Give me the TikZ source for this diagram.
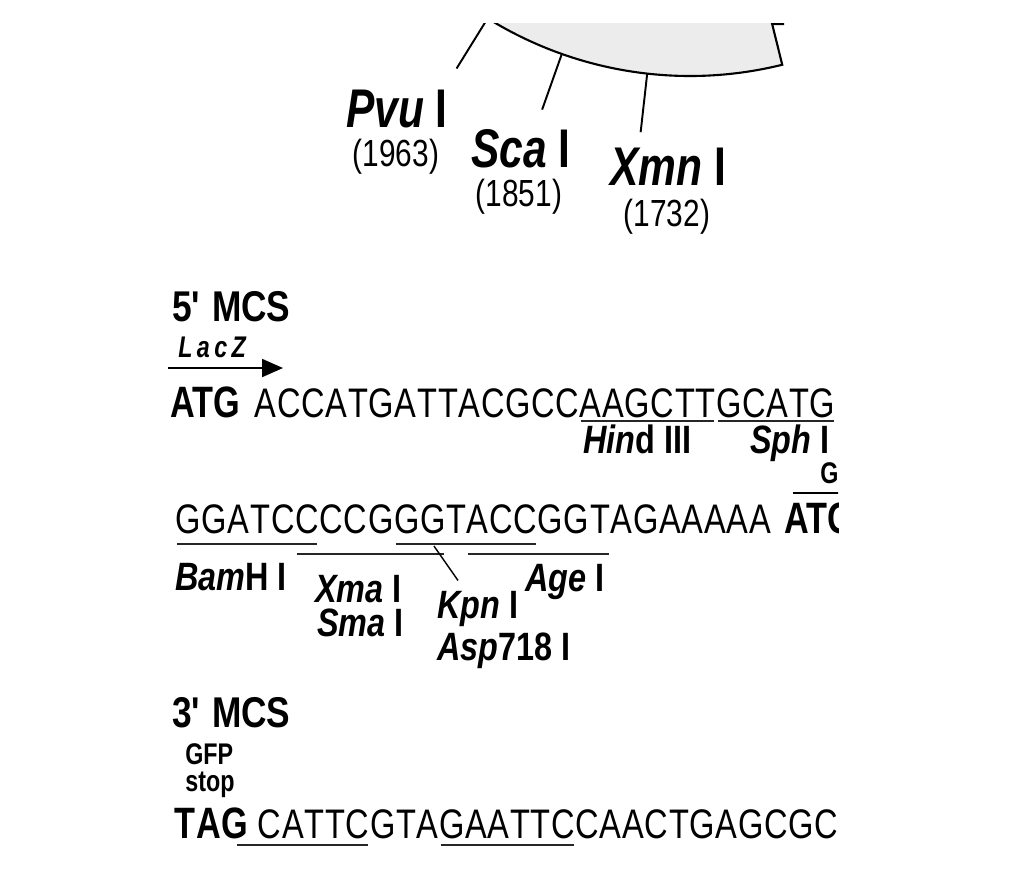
\documentclass[tikz,border=0pt]{standalone}
\usepackage{fontspec}
\newfontfamily\seqfont{Liberation Sans}[FakeStretch=0.79]
\newfontfamily\labfont{Liberation Sans}[FakeStretch=0.82]
\newfontfamily\cnfont{Liberation Sans}[FakeStretch=0.78]
\usetikzlibrary{arrows.meta,calc}
\definecolor{ringgray}{gray}{0.925}

\begin{document}
\begin{tikzpicture}[x=0.02cm,y=-0.02cm,
    letter/.style={inner sep=0pt,anchor=base west},
    seq/.style={letter,font=\seqfont\fontsize{23.5}{23.5}\selectfont},
    startcodon/.style={letter,font=\cnfont\bfseries\fontsize{25}{25}\selectfont},
    enz/.style={letter,font=\labfont\bfseries\fontsize{22.5}{22.5}\selectfont},
    site/.style={inner sep=0pt,anchor=base,font=\cnfont\bfseries\fontsize{31}{31}\selectfont},
    sitepos/.style={inner sep=0pt,anchor=base,font=\seqfont\fontsize{21.5}{21.5}\selectfont},
    mcshead/.style={letter,font=\labfont\bfseries\fontsize{24.5}{24.5}\selectfont},
    smalllab/.style={letter,font=\cnfont\bfseries\fontsize{17}{17}\selectfont},
    ul/.style={line width=1.3pt,black!85,shorten <=1pt,shorten >=1pt},
    sitetick/.style={line width=1.1pt}]
  \useasboundingbox (0,0) rectangle (1024,877);

  \begin{scope}
    \clip (0,23) rectangle (838,877);

    % plasmid ring
    \coordinate (o) at (690,-308);
    \fill[ringgray] (o) -- ($(o)+(140:384)$) arc[start angle=140,end angle=76.1,radius=384] -- cycle;
    \draw[line width=1.2pt] ($(o)+(140:384)$) arc[start angle=140,end angle=76.1,radius=384]
      -- ($(o)+(76.1:342)$) -- ++(12,0);
    \foreach \a/\n in {121.8/pvu,109.5/sca,96.4/xmn} {
      \coordinate (\n-in) at ($(o)+(\a:384)$);
      \coordinate (\n-out) at ($(o)+(\a:443)$);
      \draw[sitetick] (\n-in) -- (\n-out);
    }

    \node[site] (pvu) at (397,127) {\textit{Pvu} I};
    \node[sitepos] (pvu-pos) at (396,166) {(1963)};
    \node[site] (sca) at (521,167) {\textit{Sca} I};
    \node[sitepos] (sca-pos) at (519,206) {(1851)};
    \node[site] (xmn) at (668,185) {\textit{Xmn} I};
    \node[sitepos] (xmn-pos) at (667,226) {(1732)};

    % 5' MCS
    \node[mcshead] (mcs5) at (172,321) {5\textquotesingle{} MCS};
    \node[smalllab] (lacz) at (178,357) {\textit{L\kern2.5pt a\kern2.5pt c\kern2.5pt Z}};
    \coordinate (lacz-s) at (168,368);
    \coordinate (lacz-e) at (283,368);
    \draw[line width=1.1pt,-{Triangle[length=0.42cm,width=0.36cm]}] (lacz-s) -- (lacz-e);

    \node[startcodon] (atg) at (170,417) {ATG};
    \node[seq] (a0) at (252,417) {};
    \foreach \b [count=\i, remember=\i as \j (initially 0)] in
        {A,C,C,A,T,G,A,T,T,A,C,G,C,C,A,A,G,C,T,T,G,C,A,T,G}
      \node[seq] (a\i) at (a\j.base east) {\b};

    \draw[ul] ($(a15.base west)+(0,4)$) -- ($(a20.base east)+(0,4)$);
    \draw[ul] ($(a21.base west)+(0,4)$) -- ($(a25.base east)+(0,4)$);
    \node[enz] (hind) at (583,453) {\textit{Hin}d III};
    \node[enz] (sph) at (750,453) {\textit{Sph} I};

    \node[smalllab] (gfp) at (820,483) {G\kern4pt F\kern4pt P};
    \coordinate (gfp-s) at (793,493);
    \coordinate (gfp-e) at (900,493);
    \draw[line width=1.1pt,-{Triangle[length=0.42cm,width=0.36cm]}] (gfp-s) -- (gfp-e);

    \node[seq] (b0) at (173,533) {};
    \foreach \b [count=\i, remember=\i as \j (initially 0)] in
        {G,G,A,T,C,C,C,C,G,G,G,T,A,C,C,G,G,T,A,G,A,A,A,A,A}
      \node[seq] (b\i) at (b\j.base east) {\b};
    \node[startcodon] (atg2) at (784,533) {ATG};

    \draw[ul] ($(b1.base west)+(0,11)$) -- ($(b6.base east)+(0,11)$);
    \draw[ul] ($(b10.base west)+(0,11)$) -- ($(b15.base east)+(0,11)$);
    \draw[ul] ($(b6.base west)+(0,21)$) -- ($(b11.base east)+(0,21)$);
    \draw[ul] ($(b13.base west)+(0,21)$) -- ($(b18.base east)+(0,21)$);

    \node[enz] (bam) at (175,590) {\textit{Bam}H I};
    \node[enz] (xma) at (315,602) {\textit{Xma} I};
    \node[enz] (sma) at (317,636) {\textit{Sma} I};
    \node[enz] (kpn) at (437,618) {\textit{Kpn} I};
    \node[enz] (asp) at (437,660) {\textit{Asp}718 I};
    \node[enz] (age) at (525,591) {\textit{Age} I};
    \draw[line width=0.8pt] ($(b11.base east)+(-12,13)$) -- ($(kpn.north west)+(21,-10)$);

    % 3' MCS
    \node[mcshead] (mcs3) at (172,727) {3\textquotesingle{} MCS};
    \node[smalllab] (gfp-lab) at (185,764) {GFP};
    \node[smalllab] (stop) at (185,791) {stop};

    \node[startcodon] (t0) at (172,838) {};
    \foreach \b [count=\i, remember=\i as \j (initially 0)] in {T,A,G}
      \node[startcodon] (t\i) at (t\j.base east) {\b};
    \node[seq] (c0) at (255,838) {};
    \foreach \b [count=\i, remember=\i as \j (initially 0)] in
        {C,A,T,T,C,G,T,A,G,A,A,T,T,C,C,A,A,C,T,G,A,G,C,G,C}
      \node[seq] (c\i) at (c\j.base east) {\b};

    \draw[ul] ($(t3.base)+(0,7)$) -- ($(c5.base east)+(0,7)$);
    \draw[ul] ($(c9.base west)+(0,7)$) -- ($(c14.base east)+(0,7)$);
  \end{scope}
\end{tikzpicture}
\end{document}
